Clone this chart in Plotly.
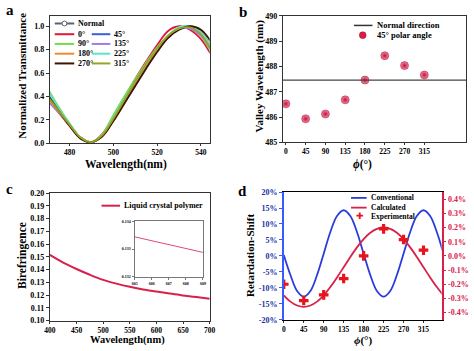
import plotly.graph_objects as go

W, H = 474, 351
FONT = "Liberation Serif, Times New Roman, serif"

def fx(p):
    return p / W

def fy(p):
    return 1 - p / H

# ---------------- Panel a data ----------------
wl_a = [470, 475, 480, 485, 490, 495, 500, 505, 510, 515, 520, 525, 530, 535, 540, 545, 550]
names_a = ["Normal", "0°", "45°", "90°", "135°", "180°", "225°", "270°", "315°"]
T_normal = [0.42, 0.29, 0.16, 0.05, 0.01, 0.07, 0.22, 0.38, 0.53, 0.67, 0.80, 0.91, 0.98, 1.00, 0.94, 0.80, 0.66]
T_0 = [0.40, 0.27, 0.15, 0.05, 0.01, 0.08, 0.23, 0.39, 0.55, 0.70, 0.84, 0.96, 1.00, 0.97, 0.89, 0.75, 0.62]
T_45 = [0.41, 0.28, 0.16, 0.05, 0.01, 0.07, 0.21, 0.37, 0.52, 0.67, 0.80, 0.91, 0.98, 1.00, 0.95, 0.81, 0.68]
T_90 = [0.47, 0.31, 0.17, 0.05, 0.01, 0.08, 0.24, 0.40, 0.55, 0.69, 0.82, 0.92, 0.99, 0.99, 0.92, 0.77, 0.64]
T_135 = [0.36, 0.26, 0.15, 0.05, 0.01, 0.07, 0.21, 0.37, 0.53, 0.68, 0.81, 0.92, 0.98, 0.98, 0.92, 0.79, 0.66]
T_180 = [0.39, 0.27, 0.15, 0.05, 0.01, 0.06, 0.19, 0.34, 0.50, 0.65, 0.79, 0.90, 0.98, 1.00, 0.95, 0.82, 0.69]
T_225 = [0.46, 0.30, 0.17, 0.05, 0.01, 0.07, 0.22, 0.38, 0.53, 0.68, 0.81, 0.92, 0.99, 1.00, 0.95, 0.82, 0.70]
T_270 = [0.41, 0.28, 0.15, 0.04, 0.01, 0.06, 0.19, 0.34, 0.49, 0.64, 0.78, 0.90, 0.97, 1.00, 0.97, 0.86, 0.74]
T_315 = [0.40, 0.28, 0.16, 0.05, 0.01, 0.07, 0.21, 0.37, 0.53, 0.68, 0.81, 0.92, 0.98, 0.99, 0.93, 0.79, 0.66]
series_a = [T_normal, T_0, T_45, T_90, T_135, T_180, T_225, T_270, T_315]
colors_a = ["#5a6470", "#e0183c", "#3a5fd8", "#6ee04a", "#9b7fe6", "#f28a2e", "#5fe3c8", "#3a1608", "#9aa322"]

# ---------------- Panel b data ----------------
phi_b = [0, 45, 90, 135, 180, 225, 270, 315]
valley_b = [486.52, 485.93, 486.12, 486.68, 487.46, 488.42, 488.03, 487.66]
normal_valley = 487.46
legend_b = ["Normal direction", "45° polar angle"]

# ---------------- Panel c data ----------------
wl_c = [400, 425, 450, 475, 500, 525, 550, 575, 600, 625, 650, 675, 700]
biref_c = [0.1515, 0.1455, 0.1405, 0.1360, 0.1320, 0.1290, 0.1265, 0.1245, 0.1228, 0.1212, 0.1198, 0.1185, 0.1172]
wl_inset = [605, 609]
biref_inset = [0.13344, 0.13288]
legend_c = "Liquid crystal polymer"

# ---------------- Panel d data ----------------
phi_curve = [0, 15, 30, 45, 60, 75, 90, 105, 120, 135, 150, 165, 180, 195, 210, 225, 240, 255, 270, 285, 300, 315, 330, 345, 360]
conventional = [0.3, -6.0, -11.0, -12.8, -11.0, -6.0, 0.7, 7.5, 12.5, 14.3, 12.5, 7.5, 0.7, -6.0, -11.0, -12.8, -11.0, -6.0, 0.7, 7.5, 12.5, 14.3, 12.5, 7.5, 0.7]
calculated = [-0.278, -0.3225, -0.350, -0.360, -0.350, -0.3225, -0.278, -0.220, -0.152, -0.080, -0.0075, 0.060, 0.118, 0.1625, 0.190, 0.200, 0.190, 0.1625, 0.118, 0.060, -0.0075, -0.080, -0.152, -0.220, -0.278]
phi_exp = [0, 45, 90, 135, 180, 225, 270, 315]
experimental = [-0.20, -0.315, -0.275, -0.16, 0.0, 0.19, 0.115, 0.04]
legend_d = ["Conventional", "Calculated", "Experimental"]

left_vals = [-20, -15, -10, -5, 0, 5, 10, 15, 20]
left_text = ["-20%", "-15%", "-10%", "-5%", "0%", "5%", "10%", "15%", "20%"]
right_vals = [-0.4, -0.3, -0.2, -0.1, 0.0, 0.1, 0.2, 0.3, 0.4]
right_text = ["-0.4%", "-0.3%", "-0.2%", "-0.1%", "0.0%", "0.1%", "0.2%", "0.3%", "0.4%"]

BLUE = "#2a3ddc"
RED = "#d8204a"
FRAME = "#333333"

fig = go.Figure()

for name, ys, col in zip(names_a, series_a, colors_a):
    fig.add_trace(go.Scatter(x=wl_a, y=ys, mode="lines", name=name,
                             line=dict(color=col, width=1.8, shape="spline"),
                             xaxis="x", yaxis="y", showlegend=False))

fig.add_trace(go.Scatter(x=phi_b, y=valley_b, mode="markers", name=legend_b[1],
                         marker=dict(size=8, color="#f58aa2",
                                     gradient=dict(type="radial", color="#c4103c"),
                                     line=dict(width=0.5, color="#a00c30")),
                         xaxis="x2", yaxis="y2", showlegend=False))

fig.add_trace(go.Scatter(x=wl_c, y=biref_c, mode="lines", name=legend_c,
                         line=dict(color=RED, width=2, shape="spline"),
                         xaxis="x3", yaxis="y3", showlegend=False))
fig.add_trace(go.Scatter(x=wl_inset, y=biref_inset, mode="lines",
                         line=dict(color="#e04a70", width=1),
                         xaxis="x5", yaxis="y5", showlegend=False))

fig.add_trace(go.Scatter(x=phi_curve, y=conventional, mode="lines", name=legend_d[0],
                         line=dict(color=BLUE, width=1.8, shape="spline"),
                         xaxis="x4", yaxis="y4", showlegend=False))
fig.add_trace(go.Scatter(x=phi_curve, y=calculated, mode="lines", name=legend_d[1],
                         line=dict(color=RED, width=1.8, shape="spline"),
                         xaxis="x4", yaxis="y6", showlegend=False))
fig.add_trace(go.Scatter(x=phi_exp, y=experimental, mode="markers", name=legend_d[2],
                         marker=dict(symbol="cross", size=8, color="#e8141c"),
                         xaxis="x4", yaxis="y6", showlegend=False))


def axis(domain, rng, anchor, **kw):
    d = dict(domain=domain, range=rng, anchor=anchor, showline=True, linecolor=FRAME,
             linewidth=1, mirror=True, ticks="outside", ticklen=3, tickwidth=1,
             tickcolor=FRAME, showgrid=False, zeroline=False,
             tickfont=dict(size=8, color="black", family=FONT, weight="bold"))
    d.update(kw)
    return d

BOTTOM_TICKFONT = dict(size=7.5, color="black", family=FONT, weight="bold")

layout = dict(
    width=W, height=H, margin=dict(l=0, r=0, t=0, b=0),
    paper_bgcolor="white", plot_bgcolor="white",
    font=dict(family=FONT, weight="bold", color="black"),
    showlegend=False,
    xaxis=axis([fx(45), fx(209)], [471, 544], "y", tickvals=[480, 500, 520, 540],
               ticklen=2, tickfont=BOTTOM_TICKFONT),
    yaxis=axis([fy(143), fy(12)], [0, 1.09], "x", tickvals=[0, 0.2, 0.4, 0.6, 0.8, 1.0], tickformat=".1f"),
    xaxis2=axis([fx(284), fx(472)], [-7, 410], "y2", tickvals=phi_b,
                ticklen=2, tickfont=BOTTOM_TICKFONT),
    yaxis2=axis([fy(142), fy(12)], [485, 490], "x2", dtick=1),
    xaxis3=axis([fx(45), fx(209)], [400, 700], "y3", dtick=50, ticklen=2,
                tickfont=BOTTOM_TICKFONT),
    yaxis3=axis([fy(325), fy(194)], [0.10, 0.20], "x3", dtick=0.01, tickformat=".2f"),
    xaxis4=axis([fx(285), fx(447)], [0, 356], "y4", tickvals=phi_exp, linecolor="black",
                ticklen=2, tickfont=BOTTOM_TICKFONT),
    yaxis4=axis([fy(324), fy(193)], [-20, 20], "x4", tickvals=left_vals, ticktext=left_text,
                mirror=False, linecolor="#3a5cff", tickcolor="#3a5cff", linewidth=1.5,
                tickfont=dict(size=8, color="#2030a8", family=FONT, weight="bold")),
    yaxis6=dict(overlaying="y4", side="right", anchor="x4", range=[-0.45, 0.45],
                tickvals=right_vals, ticktext=right_text, showline=True, linecolor=RED,
                linewidth=1.5, ticks="outside", ticklen=3, tickcolor=RED, showgrid=False,
                zeroline=False, tickfont=dict(size=8, color=RED, family=FONT, weight="bold")),
    xaxis5=axis([fx(132), fx(202)], [605, 609], "y5", tickvals=[605, 606, 607, 608, 609],
                ticklen=2, linecolor="#777", tickcolor="#777",
                tickfont=dict(size=4, color="black", family=FONT, weight="bold")),
    yaxis5=axis([fy(280), fy(223)], [0.132, 0.134], "x5", tickvals=[0.132, 0.133, 0.134],
                tickformat=".3f", ticklen=2, linecolor="#777", tickcolor="#777",
                tickfont=dict(size=4, color="black", family=FONT, weight="bold")),
)

shapes = []
annotations = []

def text(x, y, s, size=8, color="black", xanchor="left", angle=0, family=FONT, pad=1):
    annotations.append(dict(x=fx(x), y=fy(y), xref="paper", yref="paper", text=s,
                            showarrow=False, xanchor=xanchor, yanchor="middle",
                            textangle=angle, borderpad=pad,
                            font=dict(size=size, color=color, family=family, weight="bold")))

def seg(x0, x1, y, color, width=2):
    shapes.append(dict(type="line", xref="paper", yref="paper", x0=fx(x0), x1=fx(x1),
                       y0=fy(y), y1=fy(y), line=dict(color=color, width=width)))

# Panel labels
text(4, 6, "a", size=15, xanchor="center")
text(243, 8, "b", size=15, xanchor="center")
text(4, 190, "c", size=15, xanchor="center")
text(243, 192, "d", size=15, xanchor="center")

# Axis titles
text(17, 74, "Normalized Transmittance", size=11, xanchor="center", angle=-90)
text(123, 165, "Wavelength(nm)", size=11.5, xanchor="center", pad=0)
text(260, 74, "Valley Wavelength (nm)", size=11, xanchor="center", angle=-90)
text(366, 165, "<i>ϕ</i>(°)", size=11.5, xanchor="center", pad=0)
text(17, 258, "Birefringence", size=11.5, xanchor="center", angle=-90)
text(125, 345, "Wavelength(nm)", size=10.5, xanchor="center", pad=0)
text(251, 258, "Retardation-Shift", size=11, xanchor="center", angle=-90)
text(366, 345, "<i>ϕ</i>(°)", size=11, xanchor="center", pad=0)

# Panel a legend
rows = [31, 41, 51, 61]
seg(50, 70, 20, colors_a[0])
shapes.append(dict(type="circle", xref="paper", yref="paper", x0=fx(57.5), x1=fx(62.5),
                   y0=fy(22.5), y1=fy(17.5), fillcolor="white",
                   line=dict(color=colors_a[0], width=1)))
text(72, 20, names_a[0])
for i, r in enumerate(rows):
    c1 = 1 + 2 * i
    c2 = 2 + 2 * i
    seg(50, 70, r, colors_a[c1])
    text(72, r, names_a[c1])
    seg(88, 107, r, colors_a[c2])
    text(109, r, names_a[c2])

# Panel b legend + reference line
shapes.append(dict(type="line", xref="x2 domain", yref="y2", x0=0, x1=1,
                   y0=normal_valley, y1=normal_valley, line=dict(color="#444", width=1.2)))
seg(357, 376, 22, "#333", 1.5)
text(379, 22, legend_b[0], size=8.5)
shapes.append(dict(type="circle", xref="paper", yref="paper", x0=fx(362.5), x1=fx(369.5),
                   y0=fy(35.5), y1=fy(28.5), fillcolor="#d81e4a",
                   line=dict(color="#a00c30", width=0.5)))
text(379, 32, legend_b[1], size=8.5)

# Panel c legend
seg(98, 117, 207, RED, 2)
text(119, 207, legend_c)

# Panel d legend
seg(354, 370, 199, BLUE, 1.8)
text(372, 199, legend_d[0], size=7.5)
seg(354, 370, 209, RED, 1.8)
text(372, 209, legend_d[1], size=7.5)
text(363, 218, "✚", size=9, color="#e8141c", xanchor="center", family="DejaVu Sans")
text(372, 218, legend_d[2], size=7.5)

layout["shapes"] = shapes
layout["annotations"] = annotations
fig.update_layout(**layout)
fig.write_html("out.html")
